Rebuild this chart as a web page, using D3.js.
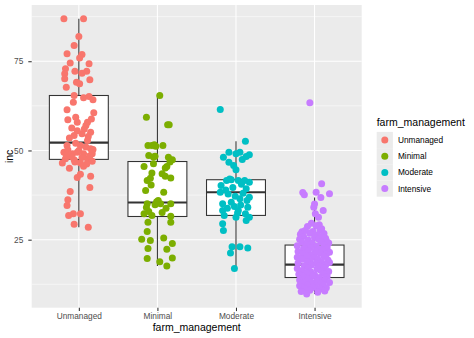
<!DOCTYPE html>
<html>
<head>
<meta charset="utf-8">
<script src="https://cdn.jsdelivr.net/npm/d3@7"></script>
<style>
  body { margin: 0; background: #fff; }
  text { font-family: "Liberation Sans", Arial, sans-serif; }
</style>
</head>
<body>
<div id="chart"></div>
<script>
// ---- data ----
const categories = ["Unmanaged", "Minimal", "Moderate", "Intensive"];
const colors = ["#F8766D", "#7CAE00", "#00BFC4", "#C77CFF"];
const yTicks = [25, 50, 75];
const yMinor = [12.5, 37.5, 62.5, 87.5];

// boxplot stats per category
const lowerWhisker = [28.5, 17.6, 16.9, 9.8];
const q1 = [47.5, 31.5, 31.8, 14.4];
const median = [52.2, 35.4, 38.3, 18.0];
const q3 = [65.4, 46.9, 41.8, 23.5];
const upperWhisker = [86.9, 65.4, 52.6, 36.8];

// jittered points: [horizontal jitter (category units), inc]
const unmanagedPts = [
  [-0.19,86.9],[0.06,86.9],[0.00,81.9],[-0.06,79.4],[-0.15,77.1],[0.04,76.9],[0.01,75.9],
  [-0.11,74.5],[0.13,74.3],[-0.17,72.9],[-0.05,72.2],[0.10,72.2],[0.04,71.6],[-0.18,71.5],
  [-0.18,70.1],[0.14,69.8],[-0.03,69.1],[0.01,68.7],[-0.16,67.7],[-0.06,65.4],[0.06,64.8],
  [0.13,65.1],[0.18,64.2],[-0.07,63.5],[-0.15,61.4],[0.19,60.6],[-0.14,58.6],[-0.04,59.3],
  [-0.02,57.9],[0.11,57.9],[0.09,57.0],[0.15,55.1],[-0.06,54.2],[0.04,54.7],[0.11,52.8],
  [-0.15,51.4],[0.02,51.4],[0.15,50.5],[-0.19,49.5],[-0.08,49.1],[-0.02,49.5],[0.06,49.1],
  [0.17,49.1],[-0.17,47.7],[-0.06,47.4],[0.11,47.7],[-0.21,46.5],[0.02,46.5],[0.17,47.0],
  [0.06,45.6],[-0.02,42.4],[0.02,43.3],[0.15,42.8],[0.14,39.6],[-0.11,38.5],[-0.14,36.2],
  [-0.15,34.6],[-0.13,31.8],[-0.07,32.3],[0.02,32.3],[-0.06,29.3],[0.12,28.5],
  [-0.09,56.3],[0.07,56.0],[-0.12,53.5],[0.12,53.9],[-0.04,52.0],[0.09,51.0],[-0.14,50.2],
  [0.00,50.0],[-0.10,48.3],[0.04,48.0],[0.14,48.5],[-0.05,46.8],[0.10,46.2],[-0.16,48.8],
  [0.18,50.3],[-0.02,55.5],[0.16,58.8],[-0.12,45.0]
];
const minimalPts = [
  [0.03,65.4],[-0.14,59.3],[0.13,57.2],[0.15,57.2],[-0.12,51.4],[-0.07,51.4],[-0.02,51.2],
  [0.07,51.4],[-0.11,48.6],[-0.03,48.4],[0.14,48.1],[0.19,47.4],[-0.05,46.3],[-0.17,45.5],
  [0.12,45.5],[-0.07,43.7],[0.06,43.5],[0.10,42.8],[0.17,42.3],[-0.13,41.6],[-0.09,42.2],
  [-0.15,38.8],[0.08,38.3],[-0.13,35.1],[-0.03,34.8],[0.04,35.1],[0.17,35.1],[-0.17,32.3],
  [-0.11,32.9],[0.06,32.6],[-0.07,31.8],[0.17,31.6],[-0.12,29.9],[0.17,29.9],[-0.13,27.3],
  [-0.20,25.1],[-0.09,24.8],[0.08,25.5],[0.19,23.9],[-0.12,22.5],[0.12,22.3],[0.19,19.9],
  [-0.13,19.7],[0.03,18.8],[0.12,17.6],
  [-0.04,51.6],[-0.05,48.2],[0.16,46.8],[0.10,45.1],[-0.08,40.3],[0.01,36.0],[-0.14,34.0],
  [0.11,33.8],[-0.01,35.6]
];
const moderatePts = [
  [-0.20,61.5],[0.12,52.6],[-0.09,49.5],[0.00,49.1],[-0.16,48.1],[0.05,49.5],[0.17,48.8],
  [0.13,48.3],[-0.03,45.8],[0.00,44.6],[-0.12,41.6],[-0.06,41.8],[0.03,41.6],[0.11,41.6],
  [0.17,41.1],[-0.19,40.2],[-0.04,39.6],[0.13,39.3],[-0.20,38.3],[-0.10,37.8],[0.17,36.9],
  [0.05,36.5],[-0.17,35.1],[-0.02,34.3],[0.15,34.1],[0.03,33.2],[-0.17,33.2],[0.12,32.3],
  [-0.15,31.8],[0.00,31.3],[0.17,31.3],[0.13,30.4],[-0.17,29.5],[-0.16,27.6],[-0.05,23.0],
  [0.05,23.0],[0.15,22.7],[-0.07,21.3],[-0.02,16.9],
  [-0.08,42.0],[0.07,40.5],[-0.13,38.9],[0.09,38.0],[-0.01,37.2],[0.14,36.0],[-0.06,35.5],
  [0.06,34.7],[-0.11,33.8],[0.02,32.5],[-0.09,46.7],[0.08,47.5]
];
const intensivePts = [
  [-0.06,63.4],[0.09,40.7],[-0.15,38.2],[-0.13,37.6],[0.02,38.3],[0.19,37.9],[0.08,36.8],
  [0.00,35.0],[-0.01,34.1],[0.11,33.2],[0.01,32.3],[0.05,31.3],[0.09,28.1],[-0.16,27.2],
  [0.14,25.4],[0.16,23.5],
  [-0.04,29.6],[0.06,29.2],[-0.09,28.7],[0.02,28.9],[-0.12,27.6],[-0.02,27.3],[0.07,27.8],
  [-0.18,26.5],[-0.06,26.8],[0.04,26.3],[0.12,26.7],[-0.14,25.9],[0.00,25.6],[0.09,25.8],
  [-0.19,25.1],[-0.08,24.9],[0.05,25.2],[0.15,24.7],[-0.16,24.3],[-0.03,24.0],[0.08,24.4],
  [0.18,24.1],[-0.22,23.3],[-0.10,23.6],[0.02,23.2],[0.12,23.5],[-0.14,22.5],[-0.05,22.8],
  [0.06,22.4],[0.16,22.7],[-0.21,21.7],[-0.08,21.9],[0.01,21.6],[0.10,22.0],[0.19,21.5],
  [-0.15,21.0],[-0.03,20.8],[0.07,21.2],[0.15,20.9],[-0.22,20.1],[-0.10,20.4],[0.00,20.0],
  [0.12,20.3],[-0.16,19.5],[-0.06,19.2],[0.04,19.6],[0.17,19.3],[-0.21,18.5],[-0.09,18.8],
  [0.02,18.4],[0.09,18.7],[0.19,18.6],[-0.13,17.7],[-0.04,17.9],[0.06,17.6],[0.14,17.8],
  [-0.22,16.9],[-0.08,17.1],[0.03,16.8],[0.12,17.0],[-0.16,16.3],[-0.05,16.0],[0.08,16.4],
  [0.18,16.1],[-0.20,15.3],[-0.10,15.6],[0.00,15.2],[0.11,15.5],[-0.14,14.5],[-0.03,14.8],
  [0.06,14.4],[0.16,14.7],[-0.19,13.7],[-0.08,13.9],[0.03,13.6],[0.13,13.8],[-0.15,12.9],
  [-0.04,13.1],[0.08,12.8],[0.19,13.0],[-0.19,12.1],[-0.09,12.4],[0.01,12.0],[0.11,12.3],
  [-0.13,11.3],[-0.02,11.6],[0.07,11.2],[0.15,11.5],[-0.17,10.5],[-0.06,10.8],[0.04,10.3],
  [0.13,10.6],[-0.10,9.8]
];
const pointSets = [unmanagedPts, minimalPts, moderatePts, intensivePts];

// ---- layout ----
var width = 474,
    height = 338;
var panel = {left: 31.7, right: 361.7, top: 5, bottom: 307.7};

var svg = d3.select('#chart').append('svg')
    .attr('width', width)
    .attr('height', height);

// scales
let x = d3.scalePoint().domain(categories).range([panel.left, panel.right]).padding(0.6);
let step = x.step();
let allVals = pointSets.flat().map(d => d[1]);
let ext = d3.extent(allVals);
let pad = (ext[1] - ext[0]) * 0.05;
let y = d3.scaleLinear().domain([ext[0] - pad, ext[1] + pad]).range([panel.bottom, panel.top]);

// panel background + grid
svg.append('rect')
    .attr('x', panel.left).attr('y', panel.top)
    .attr('width', panel.right - panel.left).attr('height', panel.bottom - panel.top)
    .attr('fill', '#EBEBEB');

svg.selectAll('.minor').data(yMinor).enter().append('line')
    .attr('x1', panel.left).attr('x2', panel.right)
    .attr('y1', d => y(d)).attr('y2', d => y(d))
    .attr('stroke', '#fff').attr('stroke-width', 0.53);
svg.selectAll('.major-y').data(yTicks).enter().append('line')
    .attr('x1', panel.left).attr('x2', panel.right)
    .attr('y1', d => y(d)).attr('y2', d => y(d))
    .attr('stroke', '#fff').attr('stroke-width', 1.07);
svg.selectAll('.major-x').data(categories).enter().append('line')
    .attr('x1', d => x(d)).attr('x2', d => x(d))
    .attr('y1', panel.top).attr('y2', panel.bottom)
    .attr('stroke', '#fff').attr('stroke-width', 1.07);

// boxplots
let boxW = step * 0.75;
let boxes = svg.selectAll('.box').data(categories).enter().append('g').attr('class', 'box');
boxes.append('line')
    .attr('x1', d => x(d)).attr('x2', d => x(d))
    .attr('y1', (d, i) => y(upperWhisker[i])).attr('y2', (d, i) => y(q3[i]))
    .attr('stroke', '#333').attr('stroke-width', 1.07);
boxes.append('line')
    .attr('x1', d => x(d)).attr('x2', d => x(d))
    .attr('y1', (d, i) => y(q1[i])).attr('y2', (d, i) => y(lowerWhisker[i]))
    .attr('stroke', '#333').attr('stroke-width', 1.07);
boxes.append('rect')
    .attr('x', d => x(d) - boxW / 2).attr('width', boxW)
    .attr('y', (d, i) => y(q3[i])).attr('height', (d, i) => y(q1[i]) - y(q3[i]))
    .attr('fill', '#fff').attr('stroke', '#333').attr('stroke-width', 1.07);
boxes.append('line')
    .attr('x1', d => x(d) - boxW / 2).attr('x2', d => x(d) + boxW / 2)
    .attr('y1', (d, i) => y(median[i])).attr('y2', (d, i) => y(median[i]))
    .attr('stroke', '#333').attr('stroke-width', 2.1);

// jittered points
pointSets.forEach((pts, i) => {
    svg.append('g').selectAll('circle').data(pts).enter().append('circle')
        .attr('cx', d => x(categories[i]) + d[0] * step)
        .attr('cy', d => y(d[1]))
        .attr('r', 3.5)
        .attr('fill', colors[i]);
});

// axes
let yAxis = svg.append('g')
    .attr('transform', `translate(${panel.left},0)`)
    .call(d3.axisLeft(y).tickValues(yTicks).tickSize(3.4).tickPadding(5));
let xAxis = svg.append('g')
    .attr('transform', `translate(0,${panel.bottom})`)
    .call(d3.axisBottom(x).tickSize(3.4).tickPadding(2.5));
[yAxis, xAxis].forEach(a => {
    a.select('.domain').remove();
    a.selectAll('.tick line').attr('stroke', '#333').attr('stroke-width', 1.07);
    a.selectAll('.tick text').attr('fill', '#4D4D4D').attr('font-size', 8.3)
        .attr('font-family', '"Liberation Sans", Arial, sans-serif');
});

// axis titles
svg.append('text')
    .attr('x', (panel.left + panel.right) / 2).attr('y', 331)
    .attr('text-anchor', 'middle').attr('font-size', 10.5)
    .text('farm_management');
svg.append('text')
    .attr('transform', `translate(13,${(panel.top + panel.bottom) / 2}) rotate(-90)`)
    .attr('text-anchor', 'middle').attr('font-size', 10.5)
    .text('inc');

// legend
let legend = svg.append('g').attr('transform', 'translate(376.7,0)');
legend.append('text')
    .attr('x', 0).attr('y', 126.3).attr('font-size', 10.5)
    .text('farm_management');
let keyH = 16.2;
let items = legend.selectAll('.key').data(categories).enter().append('g')
    .attr('transform', (d, i) => `translate(0,${131.9 + i * keyH})`);
items.append('rect')
    .attr('width', keyH).attr('height', keyH).attr('fill', '#EBEBEB');
items.append('circle')
    .attr('cx', keyH / 2).attr('cy', keyH / 2).attr('r', 3.5)
    .attr('fill', (d, i) => colors[i]);
items.append('text')
    .attr('x', keyH + 5).attr('y', keyH / 2 + 2.9).attr('font-size', 8.3)
    .text(d => d);
</script>
</body>
</html>
